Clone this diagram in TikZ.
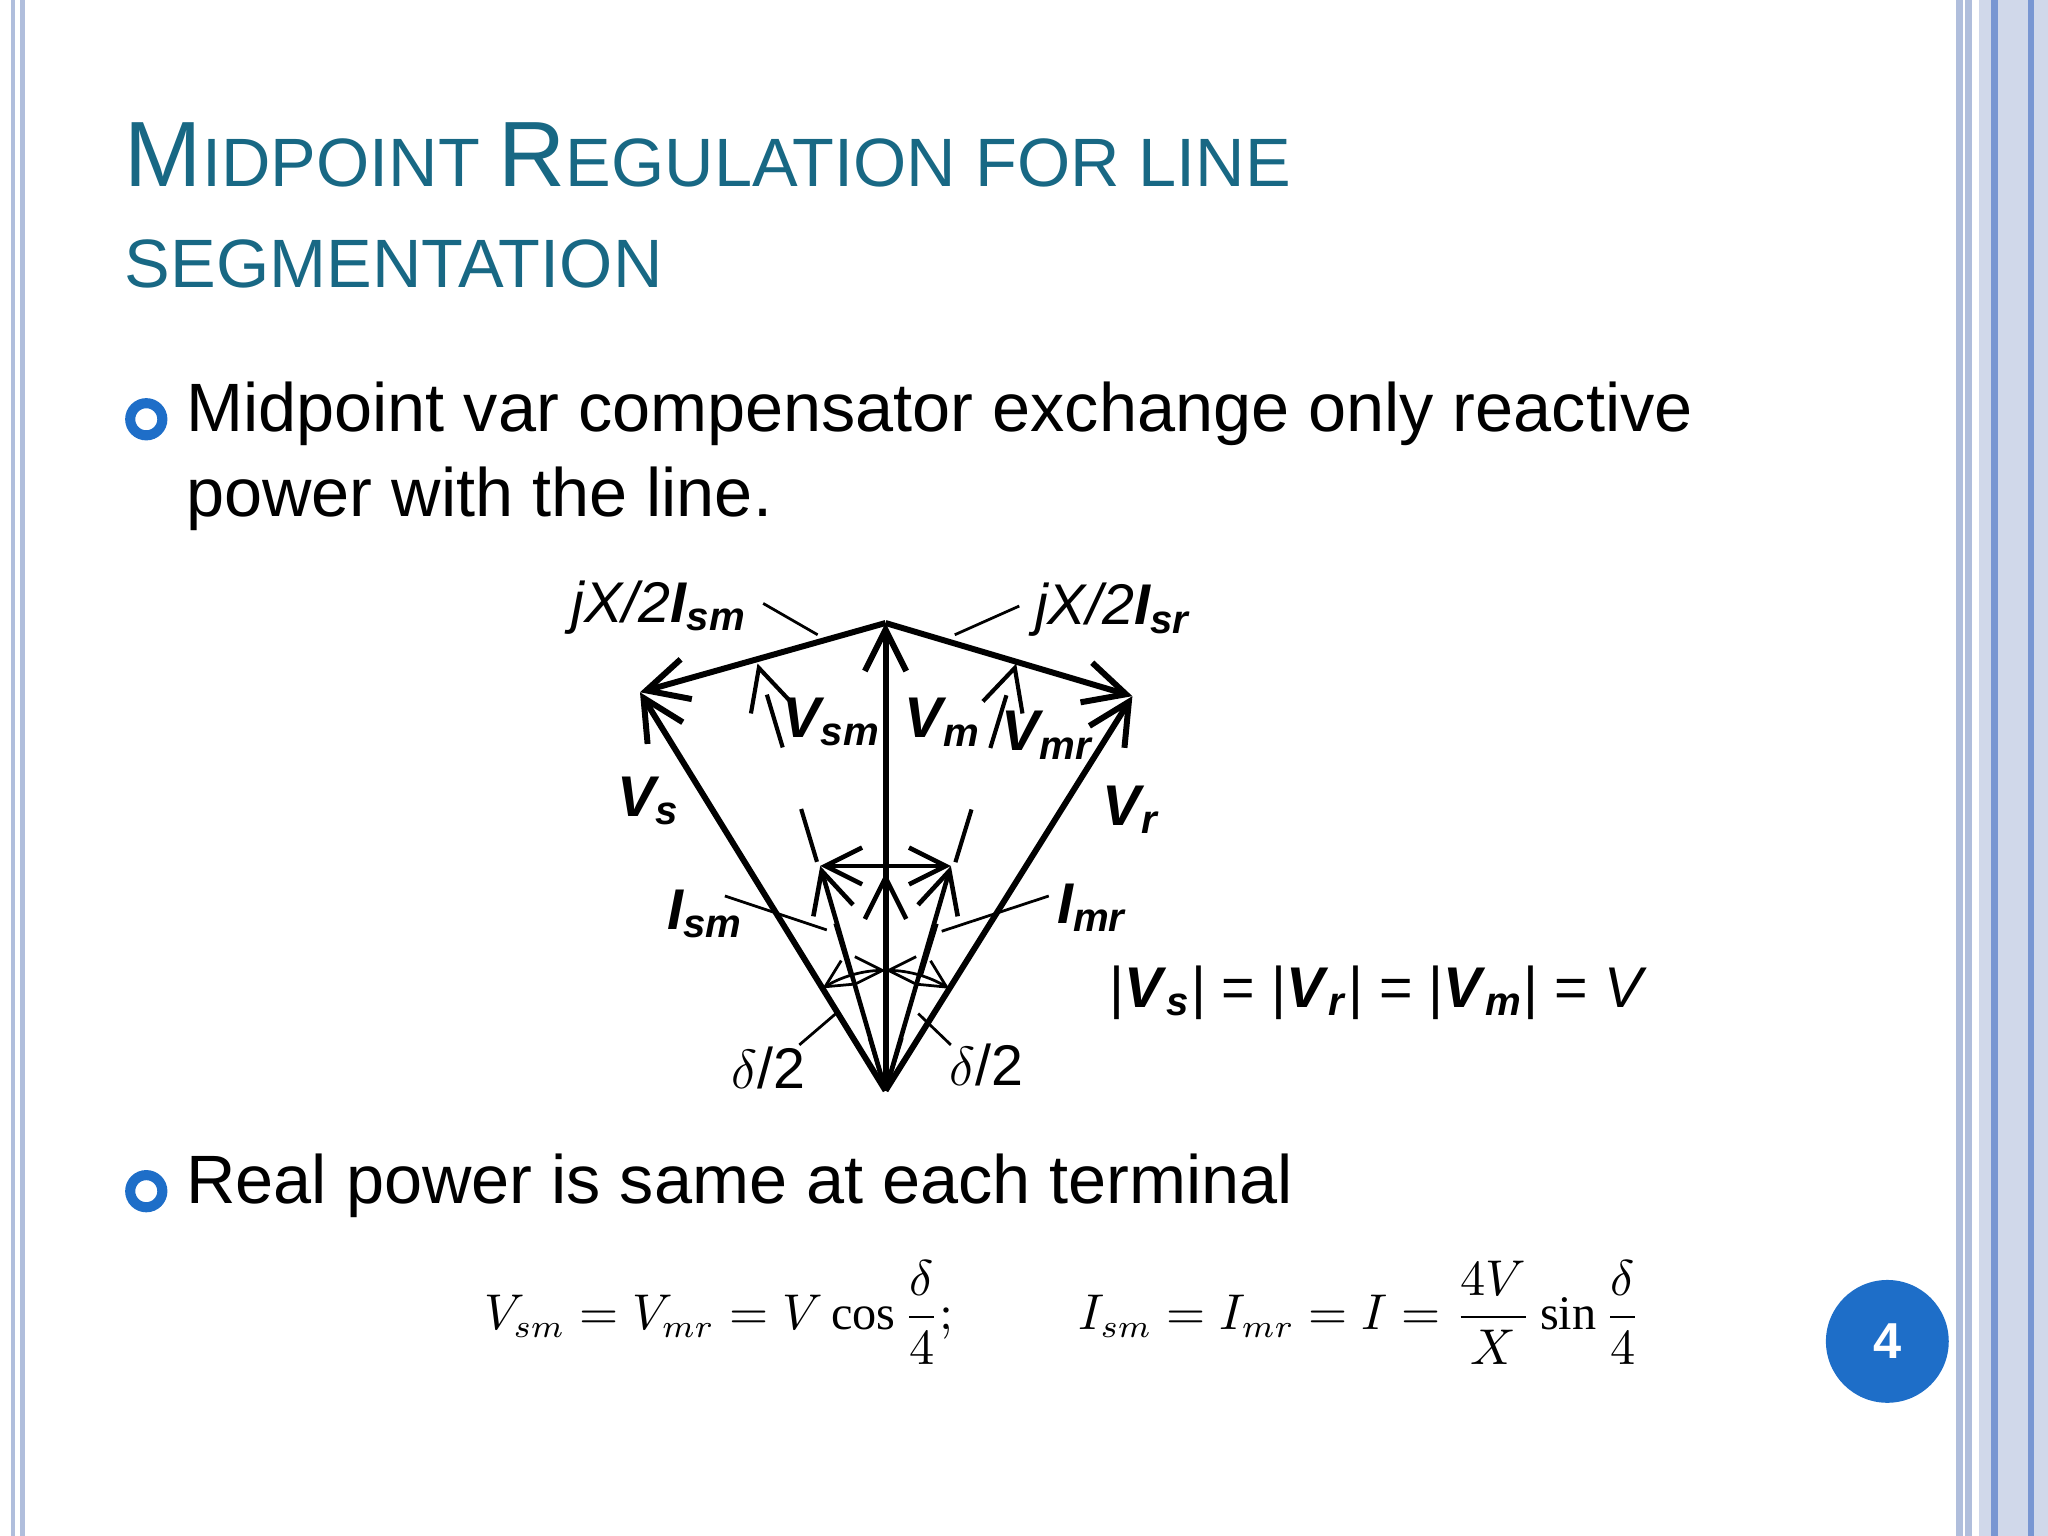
\documentclass[tikz,border=0pt]{standalone}
\usepackage{amsmath}
\usepackage{fontspec}
\setmainfont{Liberation Sans}
\newfontfamily\serifrm{Liberation Serif}
\usetikzlibrary{arrows.meta}
\definecolor{titleteal}{RGB}{24,104,132}
\definecolor{bulletblue}{RGB}{30,110,200}
\definecolor{framegray}{RGB}{176,190,220}
\definecolor{framedark}{RGB}{120,150,210}
\newcommand{\bisub}[1]{$_{\textbf{\textit{#1}}}$}
\newcommand{\trig}[1]{\mathop{\text{\serifrm #1}}}
\tikzset{
  vec/.style={line width=1.3pt,-{Straight Barb[length=9pt,width=9pt]}},
  dvec/.style={vec,dashed,line width=0.9pt,dash pattern=on 12pt off 14pt},
  lead/.style={line width=0.6pt},
  lab/.style={font=\fontsize{12.5}{15}\selectfont\bfseries\itshape,inner sep=1pt},
  btext/.style={anchor=north west,font=\fontsize{14.9}{18.5}\selectfont,inner sep=0pt,align=left},
  bullet/.style={circle,draw=bulletblue,line width=2.2pt,minimum size=7pt,inner sep=0pt}
}
\begin{document}
\begin{tikzpicture}[x=0.01cm,y=0.01cm]
\useasboundingbox (0,0) rectangle (1568,-1176);
% frame
\draw[framegray,line width=1pt] (10,0) -- (10,-1176) (17,0) -- (17,-1176);
\fill[framegray!60] (1515,0) rectangle (1568,-1176);
\draw[framegray,line width=1.5pt] (1500,0) -- (1500,-1176) (1507,0) -- (1507,-1176);
\draw[framedark,line width=1.5pt] (1527,0) -- (1527,-1176) (1555,0) -- (1555,-1176);
% title
\node[anchor=base west,text=titleteal,inner sep=0pt] (title1) at (95,-143)
  {\fontsize{20.2}{24}\selectfont M\fontsize{14.9}{18}\selectfont IDPOINT \fontsize{20.2}{24}\selectfont R\fontsize{14.9}{18}\selectfont EGULATION FOR LINE};
\node[anchor=base west,text=titleteal,inner sep=0pt,font=\fontsize{14.9}{18}\selectfont] (title2) at (95,-220) {SEGMENTATION};
% bullets
\node[bullet] (b1) at (112,-321) {};
\node[btext] (t1) at (142,-292) {Midpoint var compensator exchange only reactive\\power with the line.};
\node[bullet] (b2) at (112,-912) {};
\node[btext] (t2) at (142,-883) {Real power is same at each terminal};
% phasor diagram
\coordinate (O) at (678,-835);
\coordinate (S) at (490,-530);
\coordinate (M) at (678,-477);
\coordinate (R) at (867,-533);
\coordinate (Sm) at (580,-508);
\coordinate (Mr) at (778,-508);
\coordinate (Is) at (628,-663);
\coordinate (Im) at (728,-663);
\coordinate (Ic) at (678,-668);
\draw[vec] (O) -- (S);
\draw[vec] (O) -- (M);
\draw[vec] (O) -- (R);
\draw[vec] (M) -- (S);
\draw[vec] (M) -- (R);
\draw[dvec] (O) -- (Sm);
\draw[dvec] (O) -- (Mr);
\draw[vec,line width=1pt] (O) -- (Is);
\draw[vec,line width=1pt] (O) -- (Im);
\draw[vec,line width=1pt] (O) -- (Ic);
\draw[line width=1pt,{Straight Barb[length=8pt,width=8pt]}-{Straight Barb[length=8pt,width=8pt]}] (Is) -- (Im);
\draw[lead,{Straight Barb[length=6pt,width=6pt]}-{Straight Barb[length=6pt,width=6pt]}] (O) ++(121.7:92) arc[start angle=121.7,end angle=90,radius=92];
\draw[lead,{Straight Barb[length=6pt,width=6pt]}-{Straight Barb[length=6pt,width=6pt]}] (O) ++(90:92) arc[start angle=90,end angle=58,radius=92];
% labels
\node[lab] (jxs) at (505,-465) {\mdseries jX/2\bfseries I\bisub{sm}};
\node[lab] (jxr) at (852,-467) {\mdseries jX/2\bfseries I\bisub{sr}};
\coordinate (js) at (626,-486); \coordinate (jr) at (731,-486);
\draw[lead] (jxs.east) ++(8,3) -- (js);
\draw[lead] (jxr.west) ++(-8,3) -- (jr);
\node[lab] (vs) at (497,-613) {V\bisub{s}};
\node[lab] (vr) at (866,-620) {V\bisub{r}};
\node[lab] (vsm) at (637,-553) {V\bisub{sm}};
\node[lab] (vm) at (722,-553) {V\bisub{m}};
\node[lab] (vmr) at (802,-563) {V\bisub{mr}};
\node[lab] (ism) at (540,-700) {I\bisub{sm}};
\node[lab] (imr) at (836,-695) {I\bisub{mr}};
\coordinate (li) at (633,-712); \coordinate (lr) at (721,-713);
\draw[lead] (555,-686) -- (li);
\draw[lead] (803,-686) -- (lr);
\node[lab,font=\fontsize{12.5}{15}\selectfont] (ds) at (588,-818) {$\delta$/2};
\node[lab,font=\fontsize{12.5}{15}\selectfont] (dr) at (755,-815) {$\delta$/2};
\draw[lead] (612,-800) -- (640,-776);
\draw[lead] (728,-800) -- (703,-776);
\node[lab,font=\fontsize{12.5}{15}\selectfont,anchor=west] (eqv) at (845,-760)
  {|\textbf{\textit{V}}\bisub{s}| = |\textbf{\textit{V}}\bisub{r}| = |\textbf{\textit{V}}\bisub{m}| = \textit{V}};
% formulas
\node[inner sep=0pt,anchor=west,font=\fontsize{10.5}{13}\selectfont] (f1) at (370,-1005)
  {$V_{sm}=V_{mr}=V\trig{cos}\dfrac{\delta}{4};$};
\node[inner sep=0pt,anchor=west,font=\fontsize{10.5}{13}\selectfont] (f2) at (825,-1005)
  {$I_{sm}=I_{mr}=I=\dfrac{4V}{X}\trig{sin}\dfrac{\delta}{4}$};
% page number
\node[circle,fill=bulletblue,minimum size=94pt*0.2845,inner sep=0pt,text=white,font=\fontsize{11}{13}\selectfont\bfseries] (pg) at (1445,-1027) {4};
\end{tikzpicture}
\end{document}
